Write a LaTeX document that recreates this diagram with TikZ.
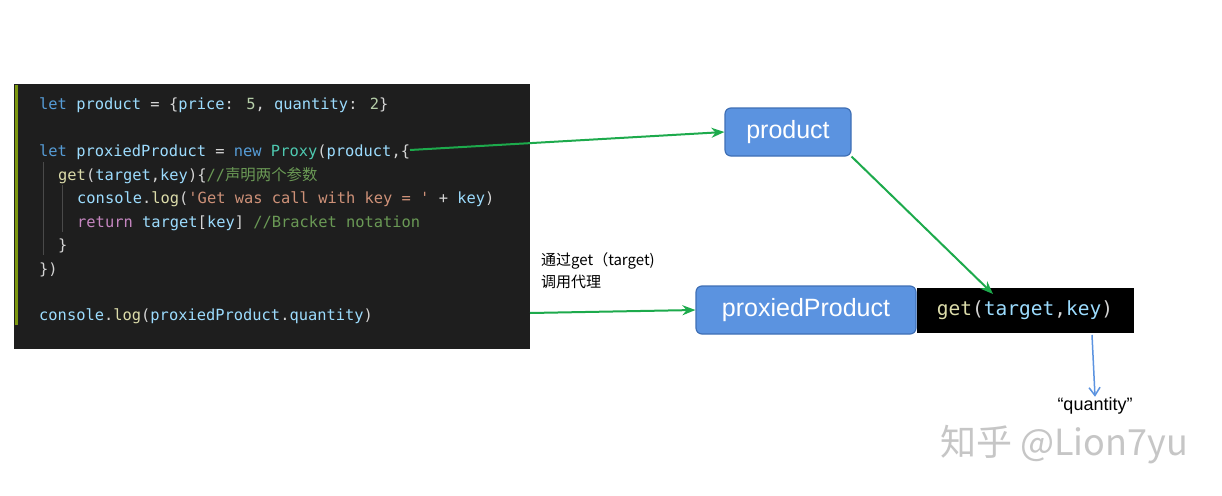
\documentclass[tikz,border=0pt]{standalone}
\usepackage{fontspec}
\setmainfont{Liberation Sans}
\newfontfamily\cjk{Noto Sans CJK SC}
\newfontfamily\codef{DejaVu Sans Mono}
\usetikzlibrary{arrows.meta}
\definecolor{kw}{HTML}{569CD6}\definecolor{vr}{HTML}{9CDCFE}\definecolor{fn}{HTML}{DCDCAA}
\definecolor{cl}{HTML}{4EC9B0}\definecolor{st}{HTML}{CE9178}\definecolor{cm}{HTML}{6A9955}
\definecolor{rt}{HTML}{C586C0}\definecolor{nm}{HTML}{B5CEA8}\definecolor{tx}{HTML}{D4D4D4}
\definecolor{boxb}{HTML}{5B93E0}\definecolor{boxd}{HTML}{3F6FB5}\definecolor{gr}{HTML}{1DAA4C}
\definecolor{bg}{HTML}{1E1E1E}
\begin{document}
\begin{tikzpicture}[x=1pt,y=-1pt,
 code/.style={anchor=base west,inner sep=0pt,text=tx,font=\codef\fontsize{15.4}{18}\selectfont},
 blue box/.style={draw=boxd,line width=1.2pt,fill=boxb,rounded corners=6pt,text=white,font=\fontsize{25}{28}\selectfont,inner sep=0pt},
 garrow/.style={draw=gr,line width=2pt,-{Stealth[length=13pt,width=10pt]}},
 lbl/.style={anchor=base west,inner sep=0pt,font=\cjk\fontsize{15}{18}\selectfont}]
\useasboundingbox (0,0) rectangle (1222,495);
\fill[white] (0,0) rectangle (1222,495);
\fill[bg] (14,84) rectangle (530,349);
\fill[olive!70!green] (15,85) rectangle (18,325);
\draw[gray!45!bg] (43,162) -- (43,255);
\draw[gray!45!bg] (62,185) -- (62,232);
\node[code] (l1) at (39,109) {\textcolor{kw}{let} \textcolor{vr}{product} = \{\textcolor{vr}{price}: \textcolor{nm}{5}, \textcolor{vr}{quantity}: \textcolor{nm}{2}\}};
\node[code] (l2) at (39,156) {\textcolor{kw}{let} \textcolor{vr}{proxiedProduct} = \textcolor{kw}{new} \textcolor{cl}{Proxy}(\textcolor{vr}{product},\{};
\node[code] (l3) at (58,180) {\textcolor{fn}{get}(\textcolor{vr}{target},\textcolor{vr}{key})\{\textcolor{cm}{//{\cjk 声明两个参数}}};
\node[code] (l4) at (77,203) {\textcolor{vr}{console}.\textcolor{fn}{log}(\textcolor{st}{'Get was call with key = '} + \textcolor{vr}{key})};
\node[code] (l5) at (77,227) {\textcolor{rt}{return} \textcolor{vr}{target}[\textcolor{vr}{key}] \textcolor{cm}{//Bracket notation}};
\node[code] (l6) at (58,250) {\}};
\node[code] (l7) at (39,274) {\})};
\node[code] (l8) at (39,320) {\textcolor{vr}{console}.\textcolor{fn}{log}(\textcolor{vr}{proxiedProduct}.\textcolor{vr}{quantity})};
\node[blue box,minimum width=126pt,minimum height=48pt] (prod) at (788,132) {product};
\node[blue box,minimum width=220pt,minimum height=48pt] (pp) at (806,310) {proxiedProduct};
\node[fill=black,text=tx,minimum width=217pt,minimum height=45pt,inner sep=0pt,font=\codef\fontsize{19.5}{22}\selectfont] (get) at (1025,310.5) {\textcolor{fn}{get}(\textcolor{vr}{target},\textcolor{vr}{key})};
\coordinate (s1) at (410,150);
\coordinate (s2) at (530,313);
\coordinate (g1) at (993,294);
\coordinate (b0) at (1092,335);
\draw[garrow] (s1) -- (prod.west);
\draw[garrow] (prod.south east) -- (g1);
\draw[garrow] (s2) -- (pp.west);
\node[anchor=base,inner sep=0pt,font=\fontsize{18}{21}\selectfont] (q) at (1095,410) {“quantity”};
\draw[draw=boxb,line width=1.5pt,-{Straight Barb[length=8pt,width=11pt]}] (b0) -- (q.north);
\node[lbl] (t1) at (541,265) {通过get（target)};
\node[lbl] (t2) at (541,287) {调用代理};
\node[anchor=base west,inner sep=0pt,text=gray!45,font=\cjk\fontsize{36}{40}\selectfont] (wm) at (940,455) {知乎 @Lion7yu};
\end{tikzpicture}
\end{document}
